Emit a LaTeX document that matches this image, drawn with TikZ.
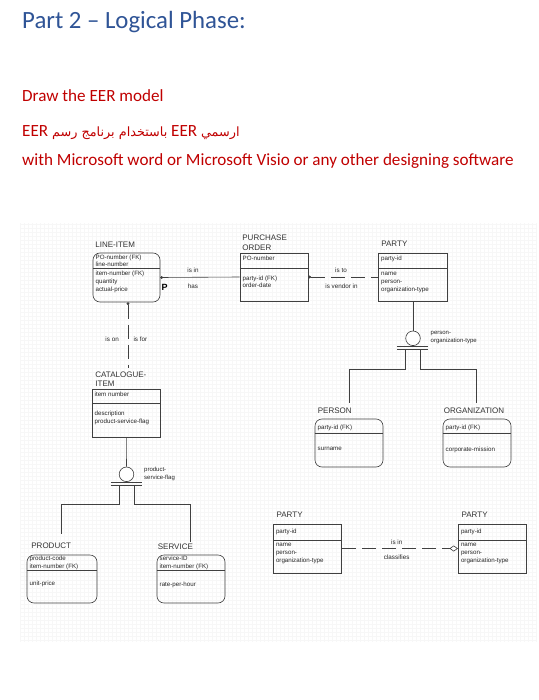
\documentclass[tikz,border=0pt]{standalone}
\usepackage{fontspec}
\setmainfont{Carlito}
\newfontfamily\diafont{Liberation Sans}
\newfontfamily\arabicfont[Script=Arabic]{DejaVu Sans}
\TeXXeTstate=1
\usetikzlibrary{positioning,calc,arrows.meta}

\definecolor{headblue}{HTML}{2F5496}
\definecolor{taskred}{HTML}{C00000}

\tikzset{
  entity/.style={draw=black!75, line width=0.6pt, inner sep=0pt},
  soft/.style={entity, rounded corners=7pt},
  ename/.style={inner sep=0pt, font=\diafont\fontsize{8}{9.5}\selectfont, text=black!80, align=left},
  attr/.style={anchor=base west, inner sep=0pt, font=\diafont\fontsize{6.2}{7.9}\selectfont, text=black!85, align=left},
  rel/.style={inner sep=0pt, font=\diafont\fontsize{6.3}{7}\selectfont, text=black!85},
  link/.style={draw=black!75, line width=0.6pt},
  longdash/.style={dash pattern=on 14pt off 6pt},
  subcircle/.style={circle, draw=black!75, line width=0.6pt, fill=white, minimum size=14.6pt, inner sep=0pt},
  task/.style={anchor=base west, inner sep=0pt, text=taskred, font=\fontsize{17.1}{20}\selectfont},
  dot/.style={{Circle[length=2.8pt]}-},
}

\begin{document}
\begin{tikzpicture}[x=1pt,y=-1pt]
\useasboundingbox (0,0) rectangle (538,700);
% faint drawing grid
\draw[black!3, line width=0.2pt, step=4pt] (20,223) grid (536,642);

% heading and task
\node[anchor=base west, inner sep=0pt, text=headblue, font=\fontsize{24.8}{28}\selectfont] (title) at (22,28.5) {Part 2 – Logical Phase:};
\node[task] (task1) at (22,102) {Draw the EER model};
\node[task] (task2) at (22,137) {\beginR{\arabicfont\fontsize{12.8}{14}\selectfont ارسمي} \beginL EER\endL{} {\arabicfont\fontsize{12.8}{14}\selectfont باستخدام برنامج رسم} \beginL EER\endL\endR};
\node[task] (task3) at (22,166) {with Microsoft word or Microsoft Visio or any other designing software};

% entities (multi-line attribute nodes sit on their last baseline)
\node[soft, minimum width=67pt, minimum height=49pt] (li) at (126.5,277.5) {};
\node[ename, above right=5pt and 2.5pt of li.north west] (liname) {LINE-ITEM};
\draw[link] (li.west |- 0,268) -- (li.east |- 0,268);
\node[attr] (litop) at (95.5,266.9) {PO-number (FK)\\line-number};
\node[attr] (libot) at (95.5,291.4) {item-number (FK)\\quantity\\actual-price};

\node[entity, minimum width=68pt, minimum height=48pt] (po) at (274,277) {};
\node[ename, above right=2pt and 2.5pt of po.north west] (poname) {PURCHASE\\ORDER};
\draw[link] (po.west |- 0,268) -- (po.east |- 0,268);
\node[attr] (potop) at (242.5,260.5) {PO-number};
\node[attr] (pobot) at (242.5,287.9) {party-id (FK)\\order-date};

\node[entity, minimum width=69pt, minimum height=48pt] (pa) at (413,277) {};
\node[ename, above right=6pt and 3pt of pa.north west] (paname) {PARTY};
\draw[link] (pa.west |- 0,268) -- (pa.east |- 0,268);
\node[attr] (patop) at (381,260.5) {party-id};
\node[attr] (pabot) at (381,291.4) {name\\person-\\organization-type};

\node[soft, minimum width=68pt, minimum height=48pt] (pe) at (349,443) {};
\node[ename, above right=5pt and 3pt of pe.north west] (pename) {PERSON};
\draw[link] (pe.west |- 0,433) -- (pe.east |- 0,433);
\node[attr] (petop) at (317.5,429) {party-id (FK)};
\node[attr] (pebot) at (317.5,450.3) {surname};

\node[soft, minimum width=68pt, minimum height=48pt] (og) at (477,443) {};
\node[ename, above right=5pt and 1pt of og.north west] (ogname) {ORGANIZATION};
\draw[link] (og.west |- 0,433) -- (og.east |- 0,433);
\node[attr] (ogtop) at (445.5,429) {party-id (FK)};
\node[attr] (ogbot) at (445.5,451.3) {corporate-mission};

\node[entity, minimum width=68.5pt, minimum height=48pt] (ci) at (126.3,413) {};
\node[ename, above right=2pt and 3.5pt of ci.north west] (ciname) {CATALOGUE-\\ITEM};
\draw[link] (ci.west |- 0,403) -- (ci.east |- 0,403);
\node[attr] (citop) at (94.5,396.6) {item number};
\node[attr] (cibot) at (94.5,423.5) {description\\product-service-flag};

\node[soft, minimum width=70pt, minimum height=48pt] (pr) at (62,579) {};
\node[ename, above right=6pt and 4.5pt of pr.north west] (prname) {PRODUCT};
\draw[link] (pr.west |- 0,570) -- (pr.east |- 0,570);
\node[attr] (prtop) at (29.5,568.4) {product-code\\item-number (FK)};
\node[attr] (prbot) at (29.5,585.3) {unit-price};

\node[soft, minimum width=68pt, minimum height=48pt] (sv) at (191,579) {};
\node[ename, above right=5pt and 1pt of sv.north west] (svname) {SERVICE};
\draw[link] (sv.west |- 0,570) -- (sv.east |- 0,570);
\node[attr] (svtop) at (159.5,568.4) {service-ID\\item-number (FK)};
\node[attr] (svbot) at (159.5,586.6) {rate-per-hour};

\node[entity, minimum width=68.5pt, minimum height=49pt] (pl) at (307.5,548.5) {};
\node[ename, above right=6.5pt and 3.5pt of pl.north west] (plname) {PARTY};
\draw[link] (pl.west |- 0,540) -- (pl.east |- 0,540);
\node[attr] (pltop) at (275.8,533.3) {party-id};
\node[attr] (plbot) at (275.8,562.4) {name\\person-\\organization-type};

\node[entity, minimum width=68.5pt, minimum height=49pt] (pq) at (492.5,548.5) {};
\node[ename, above right=6.5pt and 3.5pt of pq.north west] (pqname) {PARTY};
\draw[link] (pq.west |- 0,540) -- (pq.east |- 0,540);
\node[attr] (pqtop) at (460.8,533.3) {party-id};
\node[attr] (pqbot) at (460.8,562.4) {name\\person-\\organization-type};

% relationships
\draw[link, dot] (li.east) -- (po.west);
\node[font=\diafont\bfseries\fontsize{9}{9}\selectfont, inner sep=0pt] (pmark) at (164.5,287.5) {P};
\node[rel] (isin) at (193,270.7) {is in};
\node[rel] (has) at (193,286) {has};

\draw[link, longdash, dot] (po.east) -- (pa.west);
\node[rel] (isto) at (341,270.7) {is to};
\node[rel] (vendor) at (341.5,286) {is vendor in};

\coordinate (ciT) at (128,368);
\draw[link, longdash, dot] ($(li.south)+(1.5,0)$) -- (ciT);
\node[rel, anchor=east] (ison) at (119,339) {is on};
\node[rel, anchor=west] (isfor) at (133.3,339) {is for};

\draw[link, longdash, dot, -{Diamond[open, fill=white, length=8.5pt, width=6pt]}] (pl.east) -- (pq.west);
\node[rel] (isin2) at (396.7,542.7) {is in};
\node[rel] (classifies) at (396.7,557.7) {classifies};

% party subtypes
\node[subcircle] (d1) at (413,338.3) {};
\node[rel, anchor=north west, align=left, font=\diafont\fontsize{6}{8}\selectfont] (d1lab) at (430.5,331) {person-\\organization-type};
\draw[link] (pa.south) -- (d1.north);
\draw[link] ($(d1.south)+(-16,0)$) -- ($(d1.south)+(15,0)$);
\draw[link] ($(d1.south)+(-16,3.3)$) -- ($(d1.south)+(15,3.3)$);
\coordinate (peT) at (349,403);
\coordinate (ogT) at (476.7,403);
\draw[link] ($(d1.south)+(-7.5,3.3)$) |- (349,369) -- (peT);
\draw[link] ($(d1.south)+(7.5,3.3)$) |- (476.7,369) -- (ogT);

% catalogue subtypes
\node[subcircle] (d2) at (126.5,474.3) {};
\node[rel, anchor=north west, align=left, font=\diafont\fontsize{6}{8}\selectfont] (d2lab) at (144,467) {product-\\service-flag};
\draw[link] (ci.south) -- (d2.north);
\draw[link] ($(d2.south)+(-16,0)$) -- ($(d2.south)+(15,0)$);
\draw[link] ($(d2.south)+(-16,3.3)$) -- ($(d2.south)+(15,3.3)$);
\coordinate (prT) at (61.7,534);
\coordinate (svT) at (190.7,541.5);
\draw[link] ($(d2.south)+(-7.5,3.3)$) |- (61.7,504.3) -- (prT);
\draw[link] ($(d2.south)+(7.5,3.3)$) |- (190.7,504.3) -- (svT);
\end{tikzpicture}
\end{document}
